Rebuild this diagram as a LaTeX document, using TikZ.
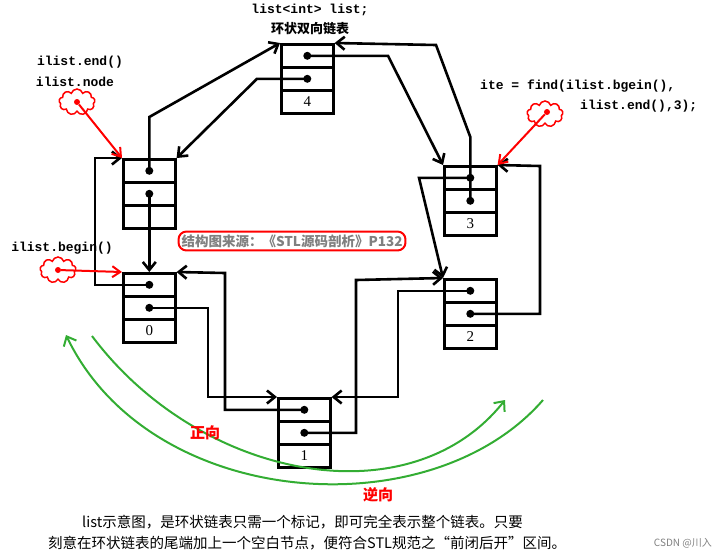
\documentclass[tikz,border=0pt]{standalone}
\usepackage{fontspec}
\setmainfont{Liberation Serif}
\newfontfamily\cjk{Noto Sans CJK SC}
\newfontfamily\codefont{Liberation Mono}
\usetikzlibrary{arrows.meta,shapes.symbols}

\tikzset{
  cell/.style={draw, line width=2.6pt, minimum width=52pt, minimum height=23pt, inner sep=0pt, font=\fontsize{15}{17}\selectfont},
  dot/.style={circle, fill=black, inner sep=0pt, minimum size=8pt},
  link/.style={line width=2.6pt, -{Straight Barb[length=8pt,width=13pt]}},
  redptr/.style={red, line width=2pt, -{Straight Barb[length=8pt,width=11pt]}},
  puff/.style={cloud, cloud puffs=9, draw=red, line width=1.5pt, minimum width=36pt, minimum height=26pt},
  code/.style={font=\codefont\bfseries\fontsize{13}{15}\selectfont, inner sep=0pt},
  cjktext/.style={font=\cjk\fontsize{14.5}{16}\selectfont, inner sep=0pt},
  swing/.style={draw=green!60!black!80, line width=2pt},
}
% one list node: three stacked cells, two pointer dots
\newcommand{\listbox}[4]{%
  \node[cell, anchor=north west] (#1a) at (#2,#3) {};
  \node[cell, anchor=north] (#1b) at ([yshift=2.6pt]#1a.south) {};
  \node[cell, anchor=north] (#1c) at ([yshift=2.6pt]#1b.south) {#4};
  \node[dot] (#1n) at (#1a) {};
  \node[dot] (#1p) at (#1b) {};
}

\begin{document}
\begin{tikzpicture}[x=1pt, y=-1pt]
  \useasboundingbox (0,0) rectangle (717,558);

  \listbox{e}{122}{158}{}
  \listbox{four}{280}{43}{4}
  \listbox{three}{443}{165}{3}
  \listbox{two}{443}{278}{2}
  \listbox{one}{277}{397}{1}
  \listbox{zero}{122}{272}{0}

  % next / prev pointers
  \draw[link] (en.center) -- (en |- 0,117) -- (foura.north west);
  \draw[link] (fourn.center) -- (fourn -| 388,0) -- (threea.north west);
  \draw[link] (fourp.center) -- (fourp -| 257,0) -- (ea.north east);
  \draw[link] (threep.center) -- (threep |- 0,137) -- (436,45) -- (foura.north east);
  \draw[link] (ep.center) -- (zeroa.north);
  \draw[link] (zeron.center) -- (zeron -| 95,0) -- (95,158) -- (ea.north west);
  \draw[link] (zerop.center) -- (zerop -| 208,0) -- (208,397) -- (onea.north west);
  \draw[link] (onen.center) -- (onen -| 225,0) -- (225,273) -- (zeroa.north east);
  \draw[link] (onep.center) -- (onep -| 356,0) -- (356,280) -- (twoa.north west);
  \draw[link] (twon.center) -- (twon -| 398,0) -- (398,397) -- (onea.north east);
  \draw[link] (threen.center) -- (threen -| 419,0) -- (twoa.north west);
  \draw[link] (twop.center) -- (twop -| 540,0) -- (540,166) -- (threea.north east);

  % labels
  \node[code] (title) at (310,10) {list<int> list;};
  \node[cjktext, font=\cjk\bfseries\fontsize{13}{15}\selectfont] (ring) at (310,29) {环状双向链表};
  \node[code] (endtxt) at (80,62) {ilist.end()};
  \node[code] (nodetxt) at (75,82) {ilist.node};
  \node[code] (begintxt) at (62,248) {ilist.begin()};
  \node[code, anchor=west] (findtxt) at (480,86) {ite = find(ilist.bgein(),};
  \node[code, anchor=west] (findtxt2) at (580,106) {ilist.end(),3);};

  % red markers
  \node[puff] (cend) at (77,102) {};
  \node[dot, red, minimum size=6pt] (cendd) at (cend) {};
  \draw[redptr] (cendd) -- (ea.north west);
  \node[puff] (cbeg) at (58,270) {};
  \node[dot, red, minimum size=6pt] (cbegd) at (cbeg) {};
  \draw[redptr] (cbegd) -- (zeroa.north west);
  \node[puff] (cite) at (545,114) {};
  \node[dot, red, minimum size=6pt] (cited) at (547,112) {};
  \draw[redptr] (cited) -- (threea.north east);

  \node[draw=red, line width=2pt, rounded corners=8pt, text=gray, font=\cjk\bfseries\fontsize{13.5}{15}\selectfont, inner sep=3pt]
    (src) at (292,241) {结构图来源：《STL源码剖析》P132};

  % traversal arcs
  \coordinate (fwdA) at (92,336);
  \coordinate (fwdB) at (505,400);
  \coordinate (revA) at (543,400);
  \coordinate (revB) at (66,335);
  \draw[swing, -{Straight Barb[length=8pt,width=14pt]}] (fwdA) .. controls (200,480) and (410,520) .. (fwdB);
  \draw[swing, -{Straight Barb[length=8pt,width=14pt]}] (revA) .. controls (430,530) and (150,510) .. (revB);
  \node[text=red, cjktext, font=\cjk\bfseries\fontsize{15}{16}\selectfont] (fwd) at (205,433) {正向};
  \node[text=red, cjktext, font=\cjk\bfseries\fontsize{15}{16}\selectfont] (rev) at (378,495) {逆向};

  \node[anchor=west, cjktext] (cap1) at (82,522) {list示意图，是环状链表只需一个标记，即可完全表示整个链表。只要};
  \node[anchor=west, cjktext] (cap2) at (48,543) {刻意在环状链表的尾端加上一个空白节点，便符合STL规范之“前闭后开”区间。};
  \node[anchor=east, text=gray, font=\cjk\fontsize{10}{12}\selectfont, inner sep=0pt] (wm) at (712,543) {CSDN @川入};
\end{tikzpicture}
\end{document}
